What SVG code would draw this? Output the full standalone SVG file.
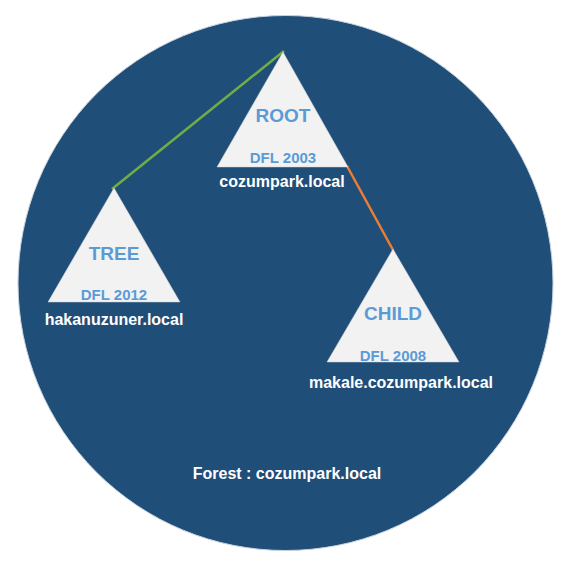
<svg xmlns="http://www.w3.org/2000/svg" width="580" height="577" viewBox="0 0 580 577">
<style>
.tri{fill:#F2F2F2;stroke:#D0D0D0;stroke-width:0.5}
.t{font-family:"Liberation Sans",Arial,sans-serif;font-weight:bold;text-anchor:middle}
.big{fill:#5B9BD5;font-size:19px}
.dfl{fill:#5B9BD5;font-size:15px}
.dom{fill:#FFFFFF;font-size:16px}
</style>
<rect width="580" height="577" fill="#FFFFFF"/>
<circle cx="285.5" cy="283" r="267.5" fill="#1F4E79" stroke="#C9D3DE" stroke-width="1"/>
<g id="connectors">
<line x1="112" y1="189" x2="284" y2="51" stroke="#70AD47" stroke-width="2.5"/>
<line x1="347" y1="166" x2="393" y2="250" stroke="#ED7D31" stroke-width="2.5"/>
</g>
<g id="root">
<polygon class="tri" points="283,52 217,167 348,167"/>
<text class="t big" x="283" y="122">ROOT</text>
<text class="t dfl" x="283" y="163">DFL 2003</text>
<text class="t dom" x="282" y="187">cozumpark.local</text>
</g>
<g id="tree">
<polygon class="tri" points="114,188 48,302 180,302"/>
<text class="t big" x="114" y="260">TREE</text>
<text class="t dfl" x="114" y="300">DFL 2012</text>
<text class="t dom" x="114" y="325">hakanuzuner.local</text>
</g>
<g id="child">
<polygon class="tri" points="393,249 327,362 459,362"/>
<text class="t big" x="393" y="320">CHILD</text>
<text class="t dfl" x="393" y="361">DFL 2008</text>
<text class="t dom" x="401" y="388">makale.cozumpark.local</text>
</g>
<g id="forest">
<text class="t dom" x="287" y="479">Forest : cozumpark.local</text>
</g>
</svg>
